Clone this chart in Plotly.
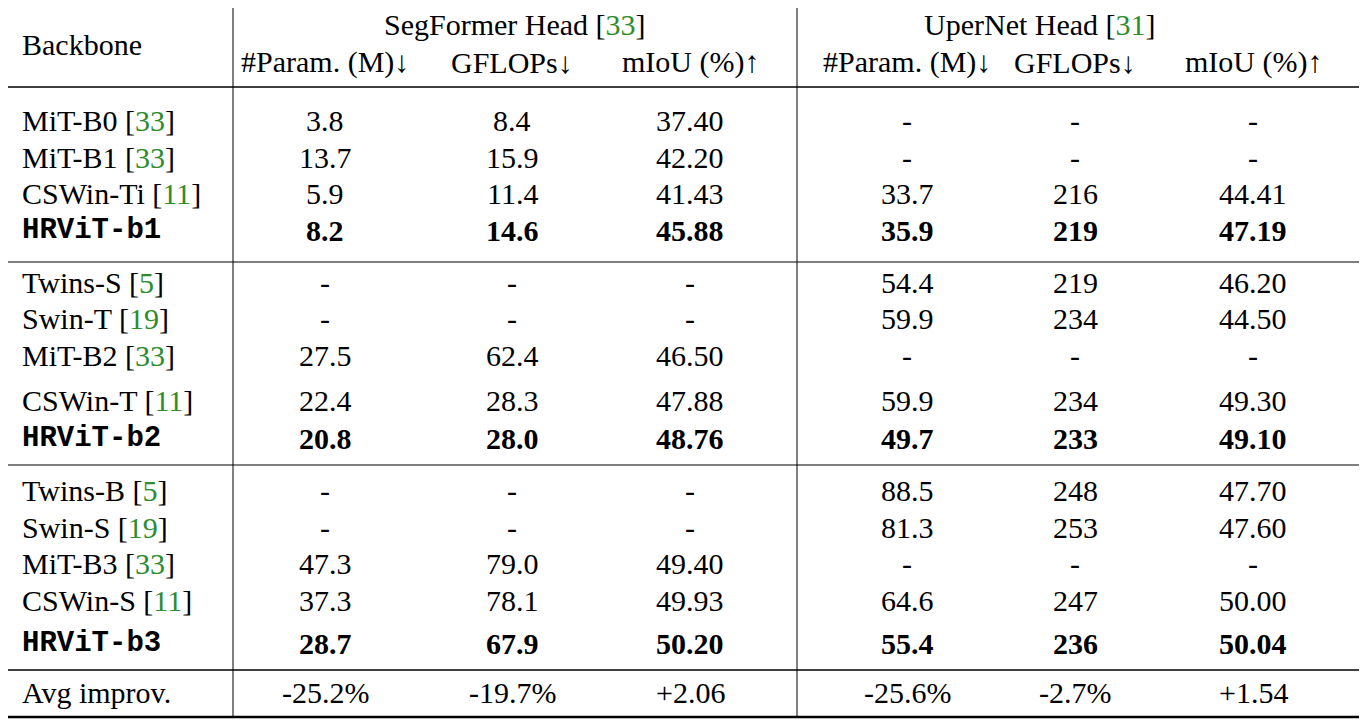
import plotly.graph_objects as go

backbones = ["MiT-B0", "MiT-B1", "CSWin-Ti", "HRViT-b1",
             "Twins-S", "Swin-T", "MiT-B2", "CSWin-T", "HRViT-b2",
             "Twins-B", "Swin-S", "MiT-B3", "CSWin-S", "HRViT-b3", "Avg improv."]
cites = ["33", "33", "11", "", "5", "19", "33", "11", "", "5", "19", "33", "11", "", ""]
seg_params = ["3.8", "13.7", "5.9", "8.2", "-", "-", "27.5", "22.4", "20.8", "-", "-", "47.3", "37.3", "28.7", "-25.2%"]
seg_flops = ["8.4", "15.9", "11.4", "14.6", "-", "-", "62.4", "28.3", "28.0", "-", "-", "79.0", "78.1", "67.9", "-19.7%"]
seg_miou = ["37.40", "42.20", "41.43", "45.88", "-", "-", "46.50", "47.88", "48.76", "-", "-", "49.40", "49.93", "50.20", "+2.06"]
up_params = ["-", "-", "33.7", "35.9", "54.4", "59.9", "-", "59.9", "49.7", "88.5", "81.3", "-", "64.6", "55.4", "-25.6%"]
up_flops = ["-", "-", "216", "219", "219", "234", "-", "234", "233", "248", "253", "-", "247", "236", "-2.7%"]
up_miou = ["-", "-", "44.41", "47.19", "46.20", "44.50", "-", "49.30", "49.10", "47.70", "47.60", "-", "50.00", "50.04", "+1.54"]
bold_rows = [3, 8, 13]
sub_headers = ["#Param. (M)↓", "GFLOPs↓", "mIoU (%)↑"]

row_y = [120, 157, 193, 230, 282, 318, 355, 400, 438, 490, 527, 563, 600, 643, 692]
col_x = [325, 512, 690, 907, 1075, 1253]
GREEN = "#2e8b2e"
FONT = "Liberation Serif"
FS = 30

fig = go.Figure()
ann = []
def add(x, y, text, xanchor="center", size=FS, family=FONT):
    ann.append(dict(x=x, y=y, text=text, xref="x", yref="y", showarrow=False,
                    xanchor=xanchor, yanchor="middle",
                    font=dict(family=family, size=size, color="black")))

add(20, 44, "Backbone", "left")
add(515, 24, f"SegFormer Head [<span style='color:{GREEN}'>33</span>]")
add(1040, 24, f"UperNet Head [<span style='color:{GREEN}'>31</span>]")
for i, h in enumerate(sub_headers * 2):
    add(col_x[i], 62, h)

cols = [seg_params, seg_flops, seg_miou, up_params, up_flops, up_miou]
for r, name in enumerate(backbones):
    y = row_y[r]
    bold = r in bold_rows
    if bold:
        add(20, y, f"<b>{name}</b>", "left", 29, "Liberation Mono")
    elif cites[r]:
        add(20, y, f"{name} [<span style='color:{GREEN}'>{cites[r]}</span>]", "left")
    else:
        add(20, y, name, "left")
    for c, col in enumerate(cols):
        v = col[r]
        add(col_x[c], y, f"<b>{v}</b>" if bold else v)

shapes = []
def hline(y, w):
    shapes.append(dict(type="line", xref="x", yref="y", x0=0, x1=1367, y0=y, y1=y,
                       line=dict(color="black", width=w)))
def vline(x):
    shapes.append(dict(type="line", xref="x", yref="y", x0=x, x1=x, y0=4, y1=716,
                       line=dict(color="black", width=1)))
hline(3, 2.5); hline(87, 1.5); hline(262, 1.2); hline(465, 1.2); hline(670, 1.5); hline(717, 2.5)
vline(233); vline(797)

fig.update_layout(width=1367, height=720, margin=dict(l=0, r=0, t=0, b=0),
                  plot_bgcolor="white", paper_bgcolor="white",
                  annotations=ann, shapes=shapes, showlegend=False,
                  xaxis=dict(range=[8, 1375], visible=False, fixedrange=True),
                  yaxis=dict(range=[728, 8], visible=False, fixedrange=True))
fig.write_html("out.html", config={"displayModeBar": False})
